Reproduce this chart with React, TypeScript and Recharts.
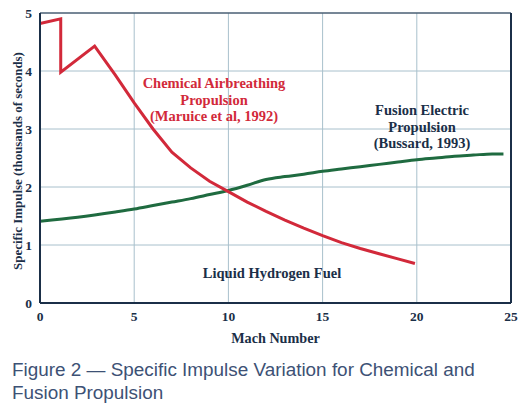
import React from "react";
import { LineChart, Line, XAxis, YAxis, CartesianGrid, ReferenceLine } from "recharts";

const chemicalMach = [0, 1.1, 1.1, 2.9, 4, 5, 6, 7, 8, 9, 10, 11, 12, 13, 14, 15, 16, 17, 18, 19, 19.9];
const chemicalIsp = [4.82, 4.9, 3.98, 4.43, 3.93, 3.45, 3.0, 2.6, 2.33, 2.1, 1.92, 1.74, 1.58, 1.43, 1.29, 1.16, 1.04, 0.94, 0.85, 0.76, 0.68];

const fusionMach = [0, 2, 4, 5, 6, 7, 8, 9, 10, 11, 12, 13, 14, 15, 16, 17, 18, 19, 20, 21, 22, 23, 24, 24.6];
const fusionIsp = [1.41, 1.48, 1.57, 1.62, 1.68, 1.74, 1.8, 1.87, 1.94, 2.03, 2.13, 2.18, 2.22, 2.27, 2.31, 2.35, 2.39, 2.43, 2.47, 2.5, 2.53, 2.55, 2.57, 2.57];

const xTicks = [0, 5, 10, 15, 20, 25];
const yTicks = [0, 1, 2, 3, 4, 5];

const chemicalData = chemicalMach.map((m, i) => ({ mach: m, isp: chemicalIsp[i] }));
const fusionData = fusionMach.map((m, i) => ({ mach: m, isp: fusionIsp[i] }));

const NAVY = "#1b2f48";
const RED = "#d2293a";
const GREEN = "#1f6b40";
const GRID = "#a8c0cc";
const SERIF = "'Liberation Serif', 'DejaVu Serif', serif";

const tickStyle = { fontFamily: SERIF, fontWeight: 700, fontSize: 13.5, fill: NAVY };

const noteStyle: React.CSSProperties = {
  position: "absolute",
  fontFamily: SERIF,
  fontWeight: 700,
  fontSize: 14.5,
  lineHeight: "16.5px",
  textAlign: "center",
  whiteSpace: "nowrap",
  transform: "translateX(-50%)",
};

export default function App() {
  return (
    <div style={{ position: "absolute", left: 0, top: 0, width: 521, height: 405, background: "#fff", overflow: "hidden" }}>
      <LineChart
        width={521}
        height={350}
        margin={{ top: 13, right: 10, left: 15, bottom: 17 }}
      >
        <CartesianGrid stroke={GRID} strokeWidth={1} />
        <XAxis
          type="number"
          dataKey="mach"
          domain={[0, 25]}
          ticks={xTicks}
          allowDuplicatedCategory={false}
          tickLine={false}
          axisLine={{ stroke: NAVY, strokeWidth: 2 }}
          tick={tickStyle}
          height={30}
          label={{ value: "Mach Number", position: "insideBottom", offset: -10, style: { fontFamily: SERIF, fontWeight: 700, fontSize: 14.2, fill: NAVY } }}
        />
        <YAxis
          type="number"
          domain={[0, 5]}
          ticks={yTicks}
          tickLine={false}
          axisLine={{ stroke: NAVY, strokeWidth: 2 }}
          tick={tickStyle}
          width={25}
        />
        <ReferenceLine x={25} stroke={NAVY} strokeWidth={2} />
        <ReferenceLine y={5} stroke={NAVY} strokeWidth={1} />
        <Line data={fusionData} dataKey="isp" type="monotone" stroke={GREEN} strokeWidth={3} dot={false} isAnimationActive={false} />
        <Line data={chemicalData} dataKey="isp" type="linear" stroke={RED} strokeWidth={3} dot={false} isAnimationActive={false} />
      </LineChart>

      <div
        style={{
          position: "absolute",
          left: 18,
          top: 161,
          transform: "translate(-50%, -50%) rotate(-90deg)",
          fontFamily: SERIF,
          fontWeight: 700,
          fontSize: 12.9,
          color: NAVY,
          whiteSpace: "nowrap",
        }}
      >
        Specific Impulse (thousands of seconds)
      </div>

      <div style={{ ...noteStyle, left: 214, top: 75, color: RED }}>
        Chemical Airbreathing<br />Propulsion<br />(Maruice et al, 1992)
      </div>
      <div style={{ ...noteStyle, left: 422, top: 102, color: NAVY }}>
        Fusion Electric<br />Propulsion<br />(Bussard, 1993)
      </div>
      <div style={{ ...noteStyle, left: 272, top: 265, color: NAVY }}>
        Liquid Hydrogen Fuel
      </div>

      <div
        style={{
          position: "absolute",
          left: 12,
          top: 359,
          fontFamily: "'Liberation Sans', Arial, sans-serif",
          fontSize: 18.9,
          lineHeight: "22.5px",
          color: "#3d5175",
          width: 510,
        }}
      >
        Figure 2 — Specific Impulse Variation for Chemical and<br />Fusion Propulsion
      </div>
    </div>
  );
}
